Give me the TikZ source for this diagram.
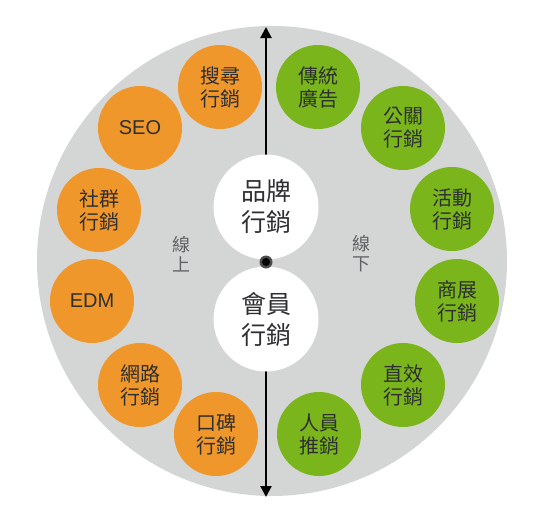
\documentclass[tikz,border=0pt]{standalone}
\usepackage{fontspec}
\setmainfont{Noto Sans CJK TC}
\newfontfamily\latinfont{Liberation Sans}
\usepackage{xcolor}
\usetikzlibrary{arrows.meta}
\definecolor{clrOn}{RGB}{240,151,44}
\definecolor{clrOff}{RGB}{122,181,28}
\definecolor{clrDisc}{RGB}{212,213,213}
\definecolor{clrTxt}{RGB}{45,47,49}
\definecolor{clrSide}{RGB}{96,98,100}
\tikzset{
  channel/.style={circle,minimum size=84pt,inner sep=0pt,align=center,
    text=clrTxt,font=\fontsize{20}{23}\selectfont},
  online/.style={channel,fill=clrOn},
  offline/.style={channel,fill=clrOff},
  core/.style={circle,fill=white,minimum size=105pt,inner sep=0pt,align=center,
    text=clrTxt,font=\fontsize{25}{31}\selectfont},
  side/.style={align=center,text=clrSide,font=\fontsize{18}{20}\selectfont},
  arrow/.style={-{Triangle[length=11pt,width=11pt]},line width=2.2pt,color=black}
}
\begin{document}
\begin{tikzpicture}[x=1pt,y=-1pt]
  \useasboundingbox (0,0) rectangle (544,517);
  \fill[clrDisc] (272,261) circle[radius=235];
  \coordinate (top) at (266,27);
  \coordinate (bottom) at (266,497);
  % online channels
  \node[online] (search) at (220,87) {搜尋\\行銷};
  \node[online] (seo) at (140,128) {\latinfont SEO};
  \node[online] (social) at (99,210) {社群\\行銷};
  \node[online] (edm) at (92,301) {\latinfont EDM};
  \node[online] (web) at (140,385) {網路\\行銷};
  \node[online] (word) at (216,434) {口碑\\行銷};
  % offline channels
  \node[offline] (ads) at (318,87) {傳統\\廣告};
  \node[offline] (pr) at (403,128) {公關\\行銷};
  \node[offline] (event) at (452,209) {活動\\行銷};
  \node[offline] (expo) at (457,301) {商展\\行銷};
  \node[offline] (direct) at (403,385) {直效\\行銷};
  \node[offline] (sales) at (319,434) {人員\\推銷};
  \node[side] (on) at (181,254) {線\\上};
  \node[side] (off) at (361,254) {線\\下};
  \draw[arrow] (266,160) -- (top);
  \draw[arrow] (266,365) -- (bottom);
  \node[core] (brand) at (266,207) {品牌\\行銷};
  \node[core] (member) at (266,319) {會員\\行銷};
  \node[circle,fill=black!70,minimum size=13pt,inner sep=0pt] (hub) at (266,262) {};
  \fill[black] (hub.center) circle[radius=4];
\end{tikzpicture}
\end{document}
